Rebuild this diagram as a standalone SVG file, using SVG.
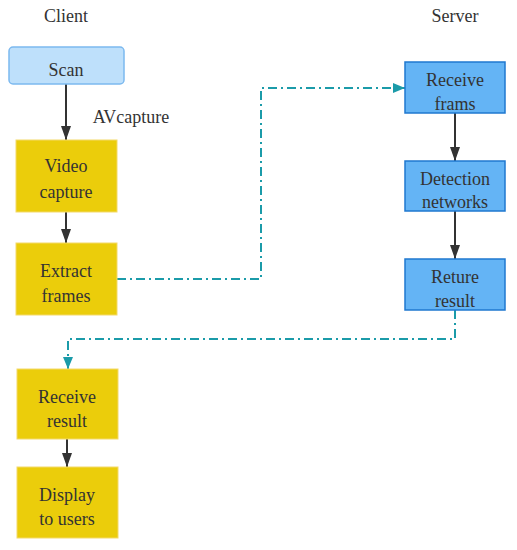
<svg xmlns="http://www.w3.org/2000/svg" width="517" height="550" viewBox="0 0 517 550">
<defs>
<marker id="ab" viewBox="0 0 14 10" refX="14" refY="5" markerWidth="14" markerHeight="10" markerUnits="userSpaceOnUse" orient="auto"><path d="M0 0L14 5L0 10z" fill="#333"/></marker>
<marker id="at" viewBox="0 0 12 10" refX="12" refY="5" markerWidth="12" markerHeight="10" markerUnits="userSpaceOnUse" orient="auto"><path d="M0 0L12 5L0 10z" fill="#1b9ba9"/></marker>
</defs>
<g font-family="Liberation Serif, Times New Roman, serif" font-size="18" fill="#333" text-anchor="middle">
<text x="66" y="22">Client</text>
<text x="455" y="22">Server</text>
</g>
<g id="connectors">
<g stroke="#333" stroke-width="2" fill="none" marker-end="url(#ab)">
<line x1="66" y1="84" x2="66" y2="140"/>
<line x1="66" y1="212" x2="66" y2="243"/>
<line x1="67" y1="439" x2="67" y2="467"/>
<line x1="455" y1="113" x2="455" y2="161"/>
<line x1="455" y1="211" x2="455" y2="259"/>
</g>
<g stroke="#1b9ba9" stroke-width="2" fill="none" stroke-dasharray="9 4 2 4" marker-end="url(#at)">
<path d="M117 279H261V88H405"/>
<path d="M455 310V339H68V369"/>
</g>
<text x="131" y="123" font-family="Liberation Serif, Times New Roman, serif" font-size="18" fill="#333" text-anchor="middle">AVcapture</text>
</g>
<g font-family="Liberation Serif, Times New Roman, serif" font-size="18" text-anchor="middle">
<g id="scan"><rect x="9" y="47" width="115" height="37" rx="4" fill="#bee0fb" stroke="#7cb9ef" stroke-width="1.5"/><text x="66" y="76" fill="#333">Scan</text></g>
<g fill="#ebcd0b" stroke="#f3d96a" stroke-width="1">
<g id="video"><rect x="16" y="140" width="101" height="72"/><text x="66" y="172" fill="#333" stroke="none">Video</text><text x="66" y="198" fill="#333" stroke="none">capture</text></g>
<g id="extract"><rect x="16" y="243" width="101" height="72"/><text x="66" y="277" fill="#333" stroke="none">Extract</text><text x="66" y="302" fill="#333" stroke="none">frames</text></g>
<g id="recvres"><rect x="17" y="369" width="101" height="70"/><text x="67" y="403" fill="#333" stroke="none">Receive</text><text x="67" y="427" fill="#333" stroke="none">result</text></g>
<g id="display"><rect x="17" y="467" width="101" height="71"/><text x="67" y="501" fill="#333" stroke="none">Display</text><text x="67" y="525" fill="#333" stroke="none">to users</text></g>
</g>
<g fill="#64b4f5" stroke="#1f78cf" stroke-width="1.5">
<g id="recvframes"><rect x="405" y="62" width="100" height="51"/><text x="455" y="86" fill="#333" stroke="none">Receive</text><text x="455" y="110" fill="#333" stroke="none">frams</text></g>
<g id="detect"><rect x="405" y="161" width="100" height="50"/><text x="455" y="185" fill="#333" stroke="none">Detection</text><text x="455" y="208" fill="#333" stroke="none">networks</text></g>
<g id="reture"><rect x="405" y="259" width="100" height="51"/><text x="455" y="283" fill="#333" stroke="none">Reture</text><text x="455" y="307" fill="#333" stroke="none">result</text></g>
</g>
</g>
</svg>
